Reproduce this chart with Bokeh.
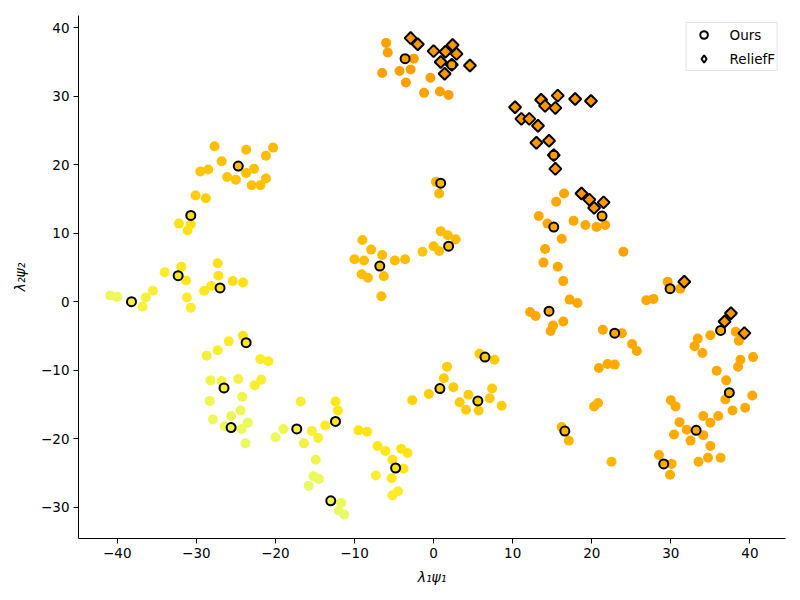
from bokeh.plotting import figure
from bokeh.models import Range1d, FixedTicker, CustomJSTickFormatter, Legend, LegendItem, ColumnDataSource
from bokeh.embed import file_html
from bokeh.resources import INLINE
import math

# ---------------- data ----------------
# background points: x, y, colour value (0..1 on the Wistia map)
base_x = [-27.7, -23.7, -20.3, -21.2, -26.8, -29.5, -28.5, -23.7, -22.7, -26.1, -25.0, -21.2, -23.0, -21.9, -30.1, -28.8,
          -32.2, -30.7, -31.1,
          -27.3, -31.9, -34.0, -27.2, -31.3, -25.4, -24.1, -28.1, -29.0, -35.5, -36.4, -40.9, -40.0, -36.8, -31.2, -30.7,
          -24.1, -25.9, -27.3, -28.7, -21.9, -20.9, -28.2, -26.8, -24.7, -21.8, -22.6, -24.2, -28.3, -24.4, -25.6, -27.9,
          -23.5, -26.4, -24.3, -23.8, -20.0, -19.0,
          -16.8, -12.4, -12.1, -13.7, -15.4, -14.6, -16.4, -14.9, -15.2, -14.5, -15.8, -11.7, -12.0, -11.3,
          -9.5, -8.4, -7.1, -6.1, -4.1, -3.3, -5.2, -3.8, -7.3, -5.3, -4.5, -5.2,
          -9.0, -7.9, -6.5, -10.0, -8.8, -4.9, -3.6, -9.1, -8.3, -6.3, -6.6, -1.4,
          0.9, 1.8, 2.8, 0.0, 0.7, 0.3, 0.7,
          5.8, 7.7, 1.7, 1.3, 2.5, -0.6, -2.7, 4.4, 7.4, 7.1, 3.3, 8.6, 4.1, 5.7,
          -6.0, -5.8, -2.5, -6.5, -4.3, -2.9, -3.5, -0.4, -1.2, 0.8, 1.9,
          16.5, 15.5, 13.3, 14.4, 17.7, 19.2, 20.6, 21.7, 16.2, 14.1, 24.0, 13.9, 15.7, 16.4, 17.2, 18.2, 12.2, 12.9,
          15.1, 14.8, 16.4, 21.4, 23.8, 25.1, 25.7, 20.9, 22.0, 22.9, 20.3, 20.8, 26.9, 27.8, 29.6, 31.2,
          16.2, 17.1, 22.5,
          38.2, 38.6, 35.0, 33.4, 33.0, 34.0, 40.4, 38.8, 38.5, 35.8, 37.0, 36.9, 40.3, 39.4, 37.8, 36.0, 34.1, 35.0,
          30.0, 30.6, 31.1, 32.0, 34.1, 30.4, 32.5, 35.0, 28.5, 30.1, 29.9, 33.5, 34.7, 36.3]
base_y = [22.7, 22.2, 22.5, 21.3, 20.5, 19.0, 19.3, 18.8, 19.4, 18.2, 17.8, 18.0, 17.0, 17.0, 15.5, 15.1,
          11.4, 11.3, 10.4,
          5.6, 5.1, 4.3, 3.8, 3.1, 3.0, 2.8, 2.3, 1.6, 1.6, 0.6, 0.9, 0.7, -0.7, 0.6, -0.9,
          -5.0, -5.8, -7.1, -7.9, -8.4, -8.7, -11.5, -11.6, -11.3, -11.4, -12.2, -13.9, -14.5, -15.9, -16.7, -17.2,
          -17.7, -18.2, -18.6, -20.7, -19.8, -18.6,
          -14.6, -14.6, -15.9, -18.1, -18.9, -19.9, -20.7, -23.1, -25.5, -25.9, -26.9, -29.4, -30.5, -31.1,
          -18.8, -19.0, -21.1, -21.8, -21.5, -22.1, -23.1, -24.4, -25.4, -25.8, -27.7, -28.3,
          9.0, 7.6, 6.8, 6.2, 6.0, 6.0, 6.2, 4.0, 3.5, 3.7, 0.8, 7.3,
          10.3, 9.7, 9.1, 8.1, 7.4, 17.5, 15.8,
          -7.6, -8.5, -9.5, -11.2, -12.5, -13.5, -14.4, -13.6, -12.7, -14.1, -14.7, -15.2, -15.8, -15.9,
          37.8, 36.4, 35.5, 33.4, 33.7, 33.9, 32.0, 32.7, 30.5, 30.7, 30.2,
          15.8, 14.6, 12.5, 11.4, 11.8, 11.2, 10.9, 11.2, 9.2, 7.7, 7.3, 5.7, 5.1, 3.0, 0.3, -0.2, -1.5, -2.1,
          -3.5, -4.3, -2.9, -4.1, -4.6, -6.2, -7.2, -9.7, -9.1, -9.2, -15.3, -14.8, 0.2, 0.4, 2.9, 1.9,
          -18.3, -20.3, -23.4,
          -4.4, -5.7, -4.9, -5.4, -6.5, -7.5, -8.1, -8.5, -9.5, -10.1, -11.5, -14.3, -13.7, -15.5, -15.9, -16.7, -16.7, -17.7,
          -14.4, -15.3, -17.6, -18.7, -19.5, -19.4, -20.3, -21.1, -22.4, -23.7, -25.3, -23.4, -22.8, -22.8]
base_c = [0.50, 0.50, 0.52, 0.50, 0.48, 0.45, 0.45, 0.48, 0.48, 0.46, 0.46, 0.48, 0.47, 0.47, 0.40, 0.40,
          0.30, 0.30, 0.28,
          0.30, 0.25, 0.22, 0.28, 0.25, 0.30, 0.30, 0.25, 0.25, 0.18, 0.15, 0.08, 0.08, 0.15, 0.22, 0.22,
          0.28, 0.22, 0.20, 0.17, 0.22, 0.22, 0.13, 0.15, 0.15, 0.20, 0.20, 0.12, 0.10, 0.10, 0.10, 0.08,
          0.08, 0.08, 0.08, 0.06, 0.08, 0.10,
          0.18, 0.25, 0.25, 0.22, 0.18, 0.18, 0.15, 0.12, 0.08, 0.08, 0.06, 0.08, 0.06, 0.05,
          0.28, 0.28, 0.25, 0.25, 0.28, 0.28, 0.28, 0.26, 0.20, 0.24, 0.22, 0.22,
          0.50, 0.50, 0.50, 0.50, 0.50, 0.50, 0.50, 0.50, 0.50, 0.50, 0.50, 0.45,
          0.50, 0.50, 0.50, 0.48, 0.48, 0.55, 0.55,
          0.42, 0.42, 0.40, 0.40, 0.42, 0.40, 0.38, 0.42, 0.42, 0.42, 0.42, 0.40, 0.42, 0.42,
          0.76, 0.76, 0.76, 0.76, 0.76, 0.76, 0.76, 0.74, 0.74, 0.74, 0.74,
          0.70, 0.70, 0.68, 0.68, 0.68, 0.68, 0.68, 0.68, 0.68, 0.68, 0.72, 0.68, 0.68, 0.68, 0.68, 0.68, 0.68, 0.68,
          0.68, 0.68, 0.68, 0.68, 0.68, 0.68, 0.68, 0.66, 0.66, 0.66, 0.60, 0.60, 0.68, 0.68, 0.70, 0.70,
          0.55, 0.55, 0.55,
          0.68, 0.68, 0.68, 0.68, 0.68, 0.68, 0.68, 0.68, 0.68, 0.68, 0.68, 0.66, 0.68, 0.66, 0.66, 0.66, 0.66, 0.66,
          0.66, 0.66, 0.66, 0.66, 0.66, 0.66, 0.66, 0.66, 0.64, 0.64, 0.64, 0.64, 0.64, 0.64]

# "Ours" selected points
ours_x = [-24.7, -30.7, -32.3, -27.0, -38.2, -23.7, -26.5, -25.6, -17.3, -12.4, -13.0, -4.8, -6.8, 1.9, 0.9,
          6.5, 0.8, 5.6, -3.6, 2.3, 15.2, 21.3, 15.2, 14.6, 22.9, 29.9, 16.6, 36.3, 37.4, 33.2, 29.1]
ours_y = [19.8, 12.6, 3.8, 2.0, 0.0, -6.0, -12.6, -18.4, -18.6, -17.5, -29.1, -24.3, 5.2, 8.1, 17.3,
          -8.1, -12.7, -14.5, 35.5, 34.6, 21.4, 12.5, 10.9, -1.4, -4.6, 1.9, -18.9, -4.2, -13.3, -18.8, -23.7]
ours_c = [0.48, 0.32, 0.25, 0.28, 0.15, 0.25, 0.18, 0.10, 0.15, 0.25, 0.12, 0.28, 0.50, 0.50, 0.55,
          0.42, 0.42, 0.42, 0.76, 0.78, 0.78, 0.68, 0.68, 0.68, 0.68, 0.70, 0.55, 0.68, 0.66, 0.66, 0.64]

# "ReliefF" selected points
relief_x = [-2.9, -2.0, 0.0, 1.5, 2.4, 2.9, 0.9, 2.3, 1.4, 4.6,
            10.3, 13.6, 15.7, 17.9, 19.9, 14.1, 15.4, 11.1, 12.1, 13.2, 13.0, 14.6, 15.2, 15.4,
            18.7, 19.7, 20.3, 21.5, 31.7, 37.6, 36.8, 39.3]
relief_y = [38.5, 37.6, 36.6, 36.5, 37.5, 36.2, 35.0, 34.6, 33.3, 34.5,
            28.4, 29.5, 30.1, 29.6, 29.3, 28.6, 28.3, 26.7, 26.7, 25.7, 23.2, 23.5, 21.4, 19.4,
            15.8, 14.9, 13.7, 14.5, 2.9, -1.7, -2.9, -4.6]
relief_c = [0.82] * len(relief_x)

x_ticks = [-40, -30, -20, -10, 0, 10, 20, 30, 40]
y_ticks = [-30, -20, -10, 0, 10, 20, 30, 40]

# ---------------- colour map (Wistia) ----------------
_anch = [(0.0, (228, 255, 122)), (0.25, (255, 232, 26)), (0.5, (255, 189, 0)),
         (0.75, (255, 160, 0)), (1.0, (252, 127, 0))]


def wistia(c):
    c = min(max(c, 0.0), 1.0)
    for (p0, c0), (p1, c1) in zip(_anch[:-1], _anch[1:]):
        if c <= p1:
            t = (c - p0) / (p1 - p0)
            rgb = [round(a + (b - a) * t) for a, b in zip(c0, c1)]
            return "#%02x%02x%02x" % tuple(rgb)
    return "#fc7f00"


FONT = "DejaVu Sans"

p = figure(width=792, height=592, output_backend="svg", toolbar_location=None,
           x_range=Range1d(-44.9, 44.5), y_range=Range1d(-34.6, 41.8),
           min_border_left=78, min_border_right=7, min_border_top=15, min_border_bottom=54)
p.outline_line_color = None
p.grid.visible = False
p.background_fill_color = "white"
p.border_fill_color = "white"

fmt = CustomJSTickFormatter(code="return tick < 0 ? '\\u2212' + (-tick) : '' + tick;")
for ax, ticks in ((p.xaxis[0], x_ticks), (p.yaxis[0], y_ticks)):
    ax.ticker = FixedTicker(ticks=ticks)
    ax.formatter = fmt
    ax.major_tick_out = 5
    ax.major_tick_in = 0
    ax.minor_tick_line_color = None
    ax.axis_line_color = "black"
    ax.major_tick_line_color = "black"
    ax.major_label_text_font = FONT
    ax.major_label_text_font_size = "13.5px"
    ax.major_label_text_color = "black"
    ax.major_label_standoff = 4
    ax.axis_label_text_font = FONT
    ax.axis_label_text_font_size = "14px"
    ax.axis_label_text_font_style = "italic"
    ax.axis_label_text_color = "black"

p.xaxis.axis_label = "λ₁ψ₁"
p.yaxis.axis_label = "λ₂ψ₂"
p.xaxis.axis_label_standoff = 8
p.yaxis.axis_label_standoff = 10

src_base = ColumnDataSource(dict(x=base_x, y=base_y, col=[wistia(c) for c in base_c]))
p.scatter("x", "y", source=src_base, marker="circle", size=10, fill_color="col", line_color=None)

src_rel = ColumnDataSource(dict(x=relief_x, y=relief_y, col=[wistia(c) for c in relief_c]))
p.scatter("x", "y", source=src_rel, marker="square", angle=math.pi / 4, size=8.5,
          fill_color="col", line_color="black", line_width=2)

src_ours = ColumnDataSource(dict(x=ours_x, y=ours_y, col=[wistia(c) for c in ours_c]))
p.scatter("x", "y", source=src_ours, marker="circle", size=9, fill_color="col",
          line_color="black", line_width=2)

# legend handles (hollow, like the reference); their single point lies outside the visible range
leg_o = p.scatter(x=[-1000], y=[-1000], marker="circle", size=9, fill_color="white",
                  line_color="black", line_width=2)
leg_r = p.scatter(x=[-1000], y=[-1000], marker="diamond", size=15,
                  fill_color="white", line_color="black", line_width=2)

legend = Legend(items=[LegendItem(label="Ours", renderers=[leg_o]),
                       LegendItem(label="ReliefF", renderers=[leg_r])],
                location="top_right")
legend.margin = 7
legend.padding = 2
legend.spacing = 5
legend.glyph_width = 30
legend.glyph_height = 19
legend.label_height = 19
legend.label_standoff = 11
legend.label_text_font = FONT
legend.label_text_font_size = "13.5px"
legend.label_text_color = "black"
legend.border_line_color = "#cccccc"
legend.border_line_width = 1
legend.background_fill_alpha = 0.8
p.add_layout(legend)

open("out.html", "w").write(file_html(p, INLINE))
